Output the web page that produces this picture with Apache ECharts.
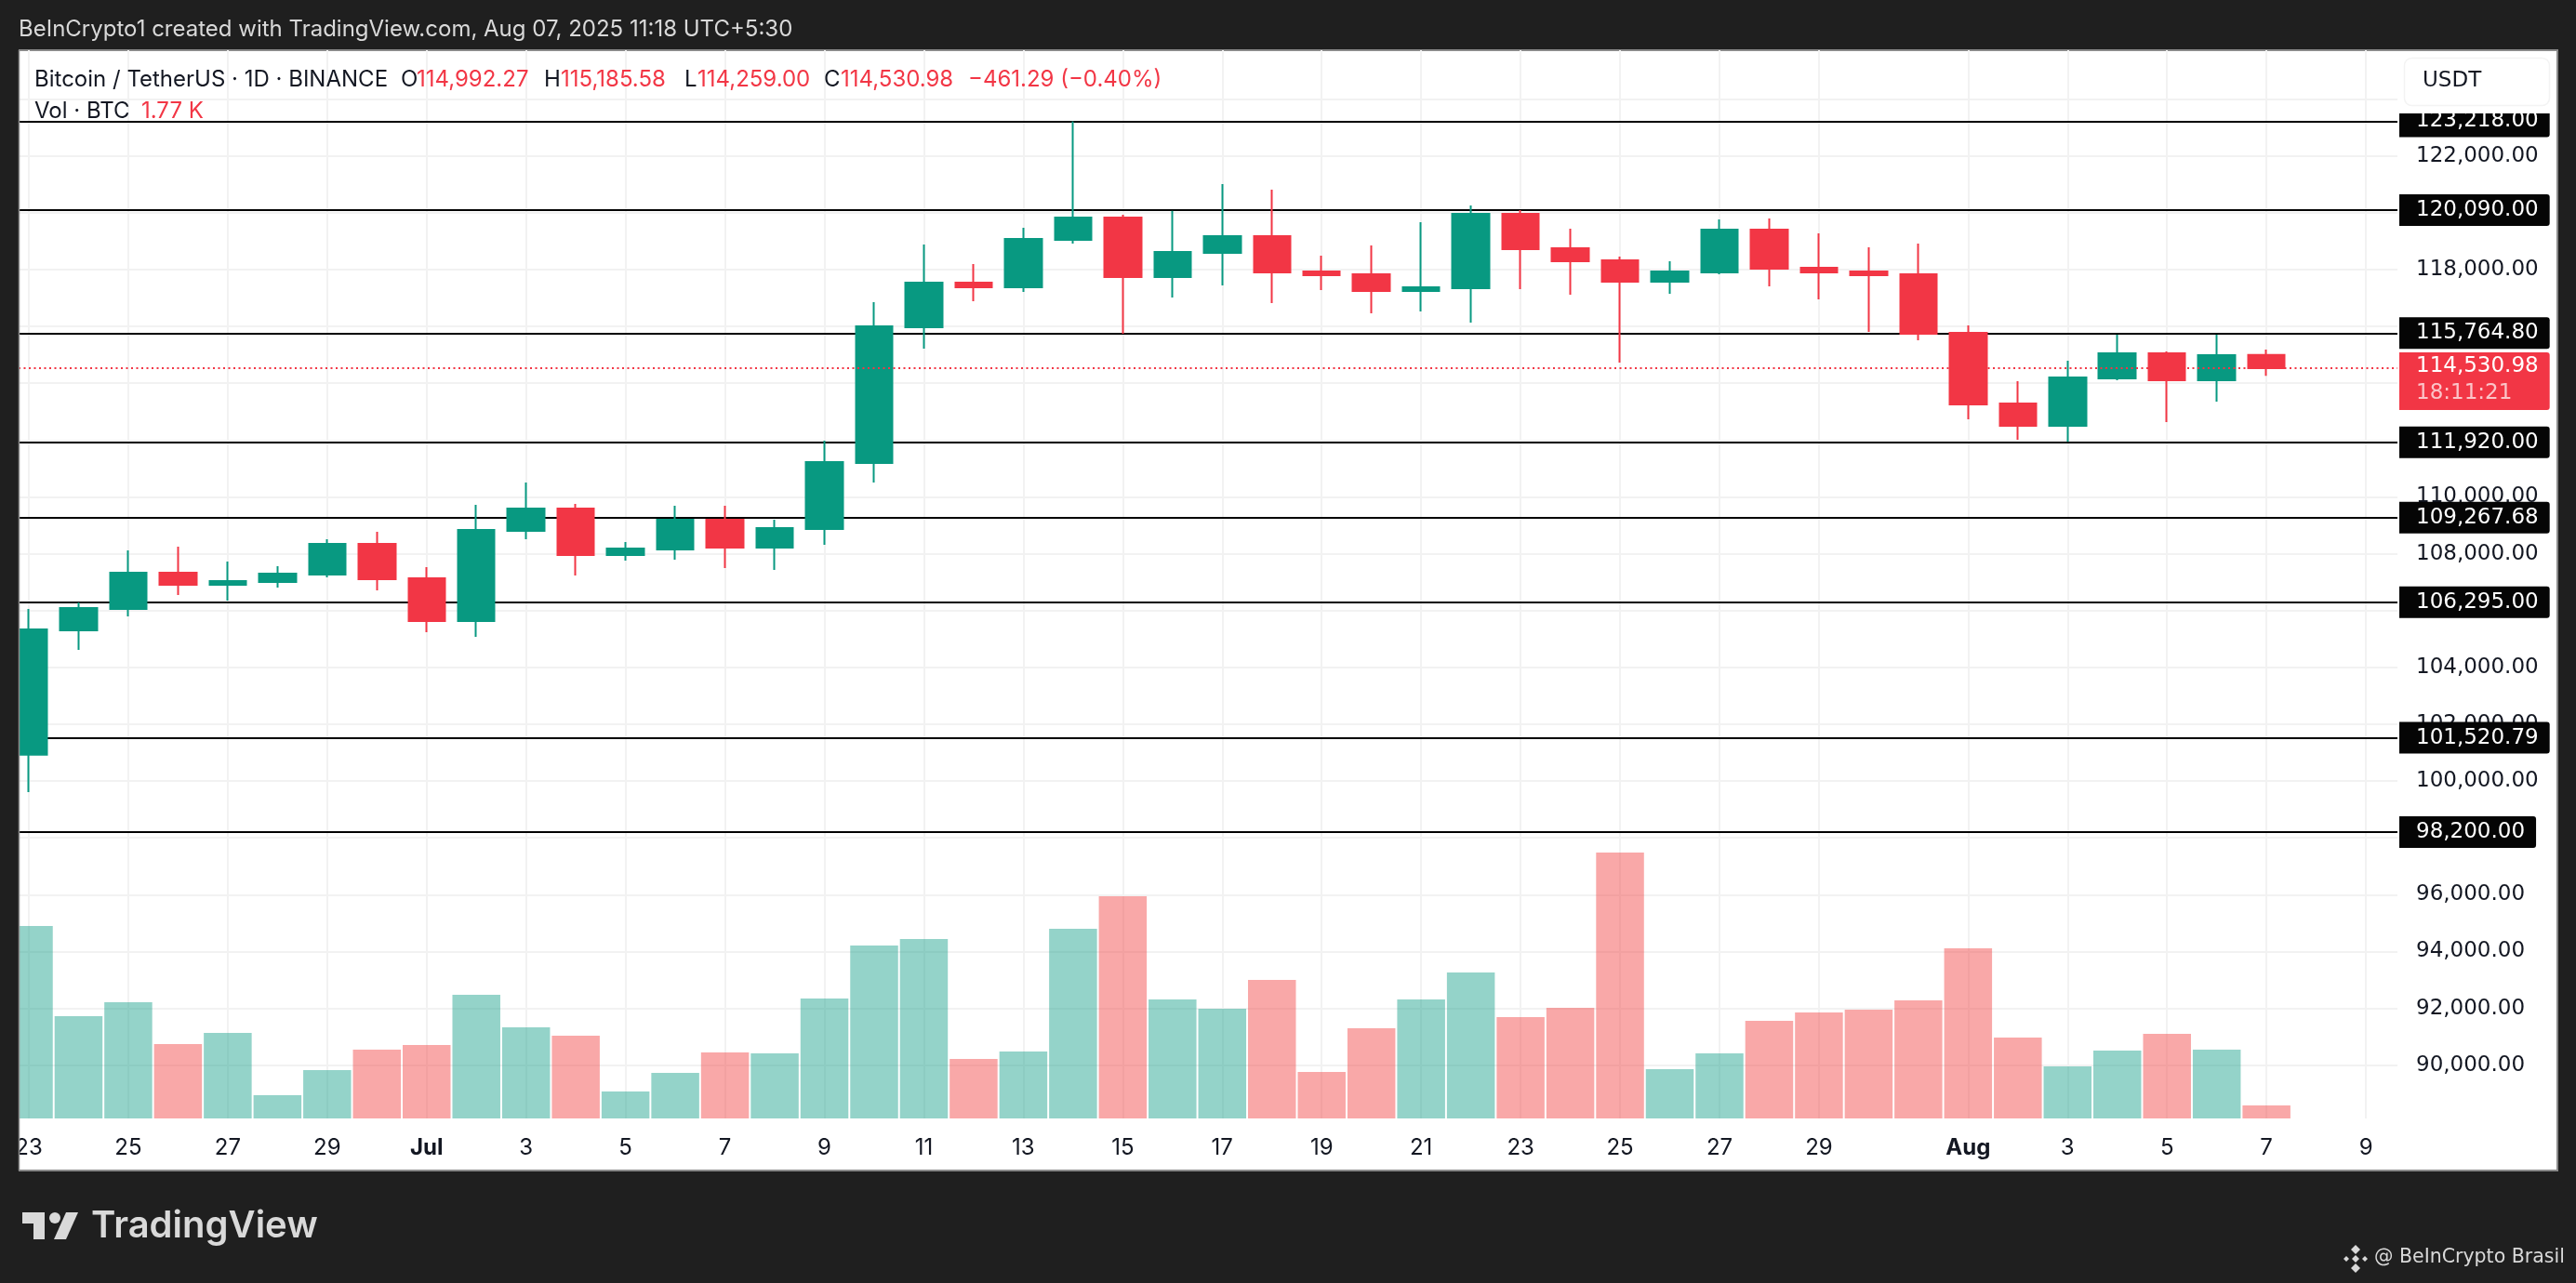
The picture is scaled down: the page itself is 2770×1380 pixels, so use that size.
<!DOCTYPE html>
<html>
<head>
<meta charset="utf-8">
<title>BTC/USDT</title>
<style>
html, body { margin: 0; padding: 0; background: #1f1f1f; }
#main { width: 2770px; height: 1380px; }
</style>
<script src="https://cdn.jsdelivr.net/npm/echarts@6/dist/echarts.min.js"></script>
</head>
<body>
<div id="main"></div>
<script>
// candles, one a day from Jun 23 (day 0) to Aug 7 (day 45)
var opens = [100930, 105303, 106056, 107332, 106906, 107005, 107266, 108346, 107136, 105631,
    108804, 109589, 107953, 108150, 109197, 108215, 108870, 111193, 115970, 117541,
    117377, 119046, 119831, 117737, 118588, 119177, 117933, 117835, 117246, 117344,
    119962, 118751, 118326, 117574, 117901, 119406, 118064, 117933, 117835, 115774,
    113287, 112502, 114171, 115054, 114105, 114992.27];
var closes = [105336, 106088, 107332, 106906, 107037, 107299, 108346, 107103, 105631, 108837,
    109589, 107953, 108182, 109197, 108215, 108902, 111225, 116003, 117541, 117377,
    119078, 119831, 117737, 118620, 119177, 117901, 117802, 117246, 117377, 119962,
    118719, 118293, 117574, 117933, 119406, 118032, 117901, 117803, 115741, 113255,
    112502, 114204, 115054, 114105, 114989, 114530.98];
var lows = [99610, 104616, 105794, 106547, 106350, 106808, 107168, 106710, 105238, 105074,
    108510, 107234, 107757, 107790, 107495, 107430, 108313, 110506, 115218, 116886,
    117214, 118915, 115741, 117017, 117443, 116821, 117279, 116461, 116526, 116134,
    117312, 117115, 114727, 117148, 117835, 117410, 116952, 115807, 115512, 112731,
    112012, 111935, 114105, 112633, 113353, 114259];
var highs = [106056, 106285, 108117, 108248, 107724, 107561, 108510, 108771, 107528, 109720,
    110505, 109753, 108412, 109688, 109688, 109197, 111978, 116854, 118882, 118195,
    119471, 123218, 119929, 120071, 121009, 120813, 118490, 118849, 119667, 120256,
    120093, 119438, 118457, 118293, 119766, 119798, 119275, 118784, 118915, 116036,
    114073, 114792, 115709, 115120, 115709, 115185.58];
// volume in thousand BTC
var volumes = [26.17, 13.91, 15.80, 10.11, 11.63, 3.16, 6.57, 9.36, 9.99, 16.81,
    12.39, 11.25, 3.67, 6.19, 8.98, 8.85, 16.31, 23.51, 24.40, 8.09,
    9.10, 25.79, 30.21, 16.18, 14.92, 18.84, 6.32, 12.26, 16.18, 19.85,
    13.78, 15.04, 36.16, 6.70, 8.85, 13.27, 14.41, 14.79, 16.06, 23.13,
    11.00, 7.08, 9.23, 11.50, 9.36, 1.77];

var dayTicks = [0, 2, 4, 6, 8, 10, 12, 14, 16, 18, 20, 22, 24, 26, 28, 30, 32, 34, 36, 39, 41, 43, 45, 47];
var dayLabels = ['23', '25', '27', '29', 'Jul', '3', '5', '7', '9', '11', '13', '15', '17', '19', '21', '23', '25', '27', '29', 'Aug', '3', '5', '7', '9'];
var priceGrid = [90000, 92000, 94000, 96000, 98000, 100000, 102000, 104000, 106000, 108000, 110000, 112000, 114000, 116000, 118000, 120000, 122000, 124000];
// the rest are hidden behind the level tags on the reference
var priceLabels = [90000, 92000, 94000, 96000, 100000, 102000, 104000, 108000, 110000, 118000, 122000];
var levels = [123218, 120090, 115764.8, 111920, 109267.68, 106295, 101520.79, 98200];
var lastPrice = 114530.98;
var countdown = '18:11:21';

var UP = '#089981', DOWN = '#f23645', TEXT = '#131722', GRID = '#f2f2f2', FOOT = '#d9d9d9';
var FONT = 'DejaVu Sans', HEADFONT = 'Inter';

function money(v) {
    return v.toLocaleString('en-US', {minimumFractionDigits: 2, maximumFractionDigits: 2});
}

var candleData = [], volumeData = [];
for (var i = 0; i < opens.length; i++) {
    candleData.push([i, opens[i], closes[i], lows[i], highs[i]]);
    volumeData.push({
        value: [i, volumes[i]],
        itemStyle: {color: closes[i] >= opens[i] ? 'rgba(8,153,129,0.43)' : 'rgba(242,54,54,0.43)'}
    });
}

var levelLines = levels.map(function (v) {
    return {
        yAxis: v,
        label: {
            show: true,
            position: 'end',
            distance: 2,
            formatter: money(v),
            color: '#fff',
            fontFamily: FONT,
            fontSize: 23,
            lineHeight: 24,
            backgroundColor: '#050505',
            borderRadius: [0, 3, 3, 0],
            padding: [5, 12, 5, 18]
        }
    };
});

function text(x, y, str, color, size, weight, family) {
    return {
        type: 'text', x: x, y: y, z: 200, silent: true,
        style: {
            text: str, fill: color, fontFamily: family || HEADFONT, fontSize: size, fontWeight: weight || 'normal',
            textAlign: 'left', textVerticalAlign: 'middle'
        }
    };
}

var graphics = [
    // white panel
    {type: 'rect', z: -10, silent: true, shape: {x: 20, y: 54, width: 2730, height: 1205}, style: {fill: '#fff', stroke: '#8a8a8a', lineWidth: 2}},
    // left page strip, clips the first tick label
    {type: 'rect', z: 150, silent: true, shape: {x: 0, y: 0, width: 20, height: 1380}, style: {fill: '#1f1f1f'}},
    {type: 'line', z: 151, silent: true, shape: {x1: 20.5, y1: 54, x2: 20.5, y2: 1259}, style: {stroke: '#8a8a8a', lineWidth: 1.5}},
    // currency button, covers the top of the first tag
    {type: 'rect', z: 150, silent: true, shape: {x: 2579, y: 56, width: 170, height: 66}, style: {fill: '#fff'}},
    {type: 'rect', z: 151, silent: true, shape: {x: 2585.5, y: 62.5, width: 156, height: 51, r: 8}, style: {fill: '#fff', stroke: '#f3f3f3', lineWidth: 1.5}},
    text(2605, 87, 'USDT', TEXT, 23, 'normal', FONT),
    text(20, 32, 'BeInCrypto1 created with TradingView.com, Aug 07, 2025 11:18 UTC+5:30', FOOT, 24),
    text(37, 86, 'Bitcoin / TetherUS · 1D · BINANCE', TEXT, 24),
    text(431, 86, 'O', TEXT, 24),
    text(448, 86, money(opens[45]), DOWN, 24),
    text(585, 86, 'H', TEXT, 24),
    text(603, 86, money(highs[45]), DOWN, 24),
    text(736, 86, 'L', TEXT, 24),
    text(750, 86, money(lows[45]), DOWN, 24),
    text(886, 86, 'C', TEXT, 24),
    text(904, 86, money(closes[45]), DOWN, 24),
    text(1041, 86, '−461.29 (−0.40%)', DOWN, 24),
    text(37, 120, 'Vol · BTC', TEXT, 24),
    text(152, 120, '1.77 K', DOWN, 24),
    // TradingView mark
    {type: 'polygon', z: 200, silent: true, shape: {points: [[24, 1304], [48, 1304], [48, 1333], [36, 1333], [36, 1316], [24, 1316]]}, style: {fill: FOOT}},
    {type: 'circle', z: 200, silent: true, shape: {cx: 59, cy: 1310, r: 6}, style: {fill: FOOT}},
    {type: 'polygon', z: 200, silent: true, shape: {points: [[71, 1304], [84, 1304], [71, 1333], [58, 1333]]}, style: {fill: FOOT}},
    text(98, 1319, 'TradingView', FOOT, 40, 600),
    text(2553, 1353, '@ BeInCrypto Brasil', FOOT, 20.5, 'normal', FONT)
];
// exchange diamonds beside the credit
[[2533, 1344, 5], [2533, 1354, 4], [2533, 1364, 5], [2523, 1354, 3], [2543, 1354, 3]].forEach(function (d) {
    graphics.push({type: 'polygon', z: 200, silent: true, shape: {points: [[d[0], d[1] - d[2]], [d[0] + d[2], d[1]], [d[0], d[1] + d[2]], [d[0] - d[2], d[1]]]}, style: {fill: FOOT}});
});

var xMin = -0.2057, xMax = 47.634;

var option = {
    animation: false,
    backgroundColor: '#1f1f1f',
    textStyle: {fontFamily: FONT},
    graphic: {elements: graphics},
    grid: [
        {left: 20, top: 54, width: 2558, height: 1149},
        {left: 20, top: 886.6, width: 2558, height: 316.4}
    ],
    xAxis: [
        {
            type: 'value', gridIndex: 0, min: xMin, max: xMax,
            axisLine: {show: false},
            axisTick: {show: false, customValues: dayTicks},
            splitLine: {show: true, lineStyle: {color: GRID, width: 2}},
            axisLabel: {
                customValues: dayTicks,
                margin: 20,
                color: TEXT,
                fontFamily: HEADFONT,
                fontSize: 24,
                formatter: function (v) {
                    var s = dayLabels[dayTicks.indexOf(v)];
                    return (s === 'Jul' || s === 'Aug') ? '{b|' + s + '}' : s;
                },
                rich: {b: {fontFamily: HEADFONT, fontSize: 24, fontWeight: 'bold', color: TEXT}}
            }
        },
        {
            type: 'value', gridIndex: 1, min: xMin, max: xMax,
            axisLine: {show: false}, axisTick: {show: false}, axisLabel: {show: false}, splitLine: {show: false}
        }
    ],
    yAxis: [
        {
            type: 'value', gridIndex: 0, position: 'right', min: 88125, max: 125720,
            axisLine: {show: false},
            axisTick: {show: false, customValues: priceGrid},
            splitLine: {show: true, lineStyle: {color: GRID, width: 2}},
            axisLabel: {
                customValues: priceLabels,
                inside: false,
                margin: 20,
                align: 'left',
                color: TEXT,
                fontFamily: FONT,
                fontSize: 23,
                formatter: function (v) { return money(v); }
            }
        },
        {
            type: 'value', gridIndex: 1, min: 0, max: 40,
            axisLine: {show: false}, axisTick: {show: false}, axisLabel: {show: false}, splitLine: {show: false}
        }
    ],
    series: [
        {
            // horizontal levels sit under the candles
            type: 'line', xAxisIndex: 0, yAxisIndex: 0, data: [], silent: true,
            markLine: {
                z: 1, silent: true, symbol: 'none', animation: false,
                lineStyle: {color: '#000', width: 2, type: 'solid'},
                data: levelLines
            }
        },
        {
            type: 'bar', xAxisIndex: 1, yAxisIndex: 1, barWidth: 51.5, silent: true,
            data: volumeData
        },
        {
            type: 'candlestick', xAxisIndex: 0, yAxisIndex: 0, barWidth: 40, silent: true,
            itemStyle: {color: UP, color0: DOWN, borderColor: UP, borderColor0: DOWN, borderWidth: 2},
            data: candleData,
            markLine: {
                z: 3, silent: true, symbol: 'none', animation: false,
                lineStyle: {color: DOWN, width: 2, type: [2, 3.5]},
                data: [{
                    yAxis: lastPrice,
                    label: {
                        show: true,
                        position: 'end',
                        distance: 2,
                        offset: [0, 14],
                        formatter: '{p|' + money(lastPrice) + '}\n{t|' + countdown + '}',
                        backgroundColor: DOWN,
                        borderRadius: [0, 3, 3, 0],
                        padding: [1, 12, 3, 18],
                        rich: {
                            p: {color: '#fff', fontFamily: FONT, fontSize: 23, lineHeight: 29},
                            t: {color: '#fbc4c8', fontFamily: FONT, fontSize: 23, lineHeight: 29}
                        }
                    }
                }]
            }
        }
    ]
};

var chart = echarts.init(document.getElementById('main'), null, {renderer: 'canvas'});
chart.setOption(option);
</script>
</body>
</html>
